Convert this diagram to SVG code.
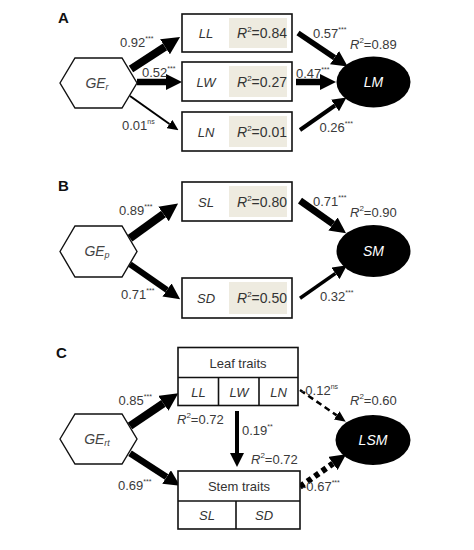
<svg xmlns="http://www.w3.org/2000/svg" width="474" height="550" viewBox="0 0 474 550">
<style>
text{font-family:"Liberation Sans",Arial,sans-serif;fill:#333}
.lab{font-size:13px;fill:#3a3a3a}
.sup{font-size:7px}
.r2s{font-size:8px}
.box{fill:#fff;stroke:#111;stroke-width:1.6}
.shade{fill:#eeebe0}
.bt{font-size:13px;font-style:italic;text-anchor:middle}
.r2{font-size:14px}
.hex{fill:#fff;stroke:#111;stroke-width:1.4}
.ge{font-size:14px;font-style:italic;text-anchor:middle;fill:#444}
.ell{fill:#000}
.et{font-size:14px;font-style:italic;fill:#fff;text-anchor:middle}
.sec{font-size:15px;font-weight:bold;fill:#111}
.hd{font-size:13px;text-anchor:middle}
.ar{stroke:#000;fill:none}
</style>
<defs>
<marker id="hB" markerUnits="userSpaceOnUse" viewBox="0 -9 18 18" refX="0" refY="0" markerWidth="18" markerHeight="18" orient="auto"><path d="M0,-9 L18,0 L0,9 z" fill="#000"/></marker>
<marker id="hM" markerUnits="userSpaceOnUse" viewBox="0 -8 16 16" refX="0" refY="0" markerWidth="16" markerHeight="16" orient="auto"><path d="M0,-8 L16,0 L0,8 z" fill="#000"/></marker>
<marker id="hS" markerUnits="userSpaceOnUse" viewBox="0 -7 14 14" refX="0" refY="0" markerWidth="14" markerHeight="14" orient="auto"><path d="M0,-7 L14,0 L0,7 z" fill="#000"/></marker>
<marker id="hT" markerUnits="userSpaceOnUse" viewBox="0 -5 11 10" refX="0" refY="0" markerWidth="11" markerHeight="10" orient="auto"><path d="M0,-5 L11,0 L0,5 z" fill="#000"/></marker>
</defs>
<rect width="474" height="550" fill="#fff"/>

<text class="sec" x="58" y="23">A</text>
<text class="sec" x="58" y="191">B</text>
<text class="sec" x="56" y="358">C</text>

<g id="connectors">
<!-- A -->
<line class="ar" x1="131" y1="69" x2="165" y2="46.8" stroke-width="8" marker-end="url(#hB)"/>
<line class="ar" x1="137" y1="82" x2="166" y2="82" stroke-width="6.5" marker-end="url(#hM)"/>
<line class="ar" x1="130" y1="96" x2="169.5" y2="124" stroke-width="2" marker-end="url(#hT)"/>
<line class="ar" x1="298" y1="33" x2="334.5" y2="57.6" stroke-width="5.5" marker-end="url(#hM)"/>
<line class="ar" x1="296" y1="82" x2="320" y2="82" stroke-width="6.5" marker-end="url(#hM)"/>
<line class="ar" x1="300" y1="130" x2="335" y2="105.5" stroke-width="4" marker-end="url(#hS)"/>
<!-- B -->
<line class="ar" x1="130" y1="238.3" x2="163.5" y2="214" stroke-width="8" marker-end="url(#hB)"/>
<line class="ar" x1="130" y1="264.3" x2="167" y2="290" stroke-width="6" marker-end="url(#hM)"/>
<line class="ar" x1="300" y1="200.7" x2="333" y2="224" stroke-width="7" marker-end="url(#hM)"/>
<line class="ar" x1="300" y1="298.3" x2="335.5" y2="273.4" stroke-width="3.5" marker-end="url(#hS)"/>
<!-- C -->
<line class="ar" x1="130" y1="426" x2="163.4" y2="403.4" stroke-width="8" marker-end="url(#hB)"/>
<line class="ar" x1="130" y1="453.3" x2="166.6" y2="477" stroke-width="6.5" marker-end="url(#hM)"/>
<line class="ar" x1="237" y1="411" x2="237" y2="453" stroke-width="4" marker-end="url(#hS)"/>
<line class="ar" x1="300" y1="390" x2="336.7" y2="415.4" stroke-width="2.5" stroke-dasharray="6,4" marker-end="url(#hT)"/>
<line class="ar" x1="300" y1="486.7" x2="333" y2="463.5" stroke-width="6" stroke-dasharray="5,4" marker-end="url(#hM)"/>
</g>

<!-- Panel A -->
<g id="A_GE">
<polygon class="hex" points="60,83 75,58 122,58 137,83 122,108 75,108"/>
<text class="ge" x="97" y="88">GE<tspan font-size="9" dy="2">r</tspan></text>
</g>
<g id="A_LL">
<rect class="box" x="182" y="14" width="110" height="38"/>
<rect class="shade" x="229" y="18" width="58" height="30"/>
<text class="bt" x="206" y="38">LL</text>
<text class="r2" x="237" y="38"><tspan font-style="italic">R</tspan><tspan class="r2s" dy="-6">2</tspan><tspan dy="6">=0.84</tspan></text>
</g>
<g id="A_LW">
<rect class="box" x="182" y="62" width="110" height="39"/>
<rect class="shade" x="229" y="66" width="58" height="31"/>
<text class="bt" x="206" y="86.5">LW</text>
<text class="r2" x="237" y="86.5"><tspan font-style="italic">R</tspan><tspan class="r2s" dy="-6">2</tspan><tspan dy="6">=0.27</tspan></text>
</g>
<g id="A_LN">
<rect class="box" x="182" y="112" width="110" height="39"/>
<rect class="shade" x="229" y="116" width="58" height="31"/>
<text class="bt" x="206" y="136.5">LN</text>
<text class="r2" x="237" y="136.5"><tspan font-style="italic">R</tspan><tspan class="r2s" dy="-6">2</tspan><tspan dy="6">=0.01</tspan></text>
</g>
<g id="A_LM">
<ellipse class="ell" cx="373.5" cy="82" rx="37" ry="25.5"/>
<text class="et" x="373.5" y="87">LM</text>
</g>
<g id="A_labels">
<text class="lab" x="120" y="47">0.92<tspan class="sup" dy="-6">***</tspan></text>
<text class="lab" x="142" y="77">0.52<tspan class="sup" dy="-6">***</tspan></text>
<text class="lab" x="122" y="130">0.01<tspan class="sup" dy="-6">ns</tspan></text>
<text class="lab" x="313" y="38">0.57<tspan class="sup" dy="-6">***</tspan></text>
<text class="lab" x="350" y="48.5"><tspan font-style="italic">R</tspan><tspan class="r2s" dy="-6">2</tspan><tspan dy="6">=0.89</tspan></text>
<text class="lab" x="296" y="78">0.47<tspan class="sup" dy="-6">***</tspan></text>
<text class="lab" x="319.5" y="132">0.26<tspan class="sup" dy="-6">***</tspan></text>
</g>

<!-- Panel B -->
<g id="B_GE">
<polygon class="hex" points="60,251.5 75,226 122,226 137,251.5 122,277 75,277"/>
<text class="ge" x="97" y="256">GE<tspan font-size="9" dy="2">p</tspan></text>
</g>
<g id="B_SL">
<rect class="box" x="182" y="182" width="110" height="39"/>
<rect class="shade" x="229" y="186" width="58" height="31"/>
<text class="bt" x="206" y="206.5">SL</text>
<text class="r2" x="237" y="206.5"><tspan font-style="italic">R</tspan><tspan class="r2s" dy="-6">2</tspan><tspan dy="6">=0.80</tspan></text>
</g>
<g id="B_SD">
<rect class="box" x="182" y="278" width="110" height="40"/>
<rect class="shade" x="229" y="282" width="58" height="32"/>
<text class="bt" x="206" y="303">SD</text>
<text class="r2" x="237" y="303"><tspan font-style="italic">R</tspan><tspan class="r2s" dy="-6">2</tspan><tspan dy="6">=0.50</tspan></text>
</g>
<g id="B_SM">
<ellipse class="ell" cx="373.5" cy="251" rx="37" ry="26"/>
<text class="et" x="373.5" y="256">SM</text>
</g>
<g id="B_labels">
<text class="lab" x="119" y="215">0.89<tspan class="sup" dy="-6">***</tspan></text>
<text class="lab" x="121" y="298.5">0.71<tspan class="sup" dy="-6">***</tspan></text>
<text class="lab" x="313" y="206">0.71<tspan class="sup" dy="-6">***</tspan></text>
<text class="lab" x="350" y="217"><tspan font-style="italic">R</tspan><tspan class="r2s" dy="-6">2</tspan><tspan dy="6">=0.90</tspan></text>
<text class="lab" x="320" y="301">0.32<tspan class="sup" dy="-6">***</tspan></text>
</g>

<!-- Panel C -->
<g id="C_GE">
<polygon class="hex" points="60,439 75,414 122,414 137,439 122,464 75,464"/>
<text class="ge" x="97" y="444">GE<tspan font-size="9" dy="2">rt</tspan></text>
</g>
<g id="C_Leaf">
<rect class="box" x="178" y="347.5" width="120" height="58"/>
<line x1="178" y1="377.5" x2="298" y2="377.5" stroke="#111" stroke-width="1.6"/>
<line x1="218.5" y1="377.5" x2="218.5" y2="405.5" stroke="#111" stroke-width="1.6"/>
<line x1="259" y1="377.5" x2="259" y2="405.5" stroke="#111" stroke-width="1.6"/>
<text class="hd" x="238" y="367.5">Leaf traits</text>
<text class="bt" x="198.5" y="396.5">LL</text>
<text class="bt" x="239" y="396.5">LW</text>
<text class="bt" x="278.5" y="396.5">LN</text>
</g>
<g id="C_Stem">
<rect class="box" x="178" y="471" width="122" height="58"/>
<line x1="178" y1="501" x2="300" y2="501" stroke="#111" stroke-width="1.6"/>
<line x1="236" y1="501" x2="236" y2="529" stroke="#111" stroke-width="1.6"/>
<text class="hd" x="239" y="491">Stem traits</text>
<text class="bt" x="207" y="520">SL</text>
<text class="bt" x="264" y="520">SD</text>
</g>
<g id="C_LSM">
<ellipse class="ell" cx="373" cy="440" rx="37.5" ry="25"/>
<text class="et" x="373" y="445">LSM</text>
</g>
<g id="C_labels">
<text class="lab" x="118.5" y="405">0.85<tspan class="sup" dy="-6">***</tspan></text>
<text class="lab" x="177" y="423.5"><tspan font-style="italic">R</tspan><tspan class="r2s" dy="-6">2</tspan><tspan dy="6">=0.72</tspan></text>
<text class="lab" x="242" y="435">0.19<tspan class="sup" dy="-6">**</tspan></text>
<text class="lab" x="251" y="463.5"><tspan font-style="italic">R</tspan><tspan class="r2s" dy="-6">2</tspan><tspan dy="6">=0.72</tspan></text>
<text class="lab" x="118" y="490">0.69<tspan class="sup" dy="-6">***</tspan></text>
<text class="lab" x="301" y="395">-0.12<tspan class="sup" dy="-6">ns</tspan></text>
<text class="lab" x="350" y="405"><tspan font-style="italic">R</tspan><tspan class="r2s" dy="-6">2</tspan><tspan dy="6">=0.60</tspan></text>
<text class="lab" x="302" y="491">-0.67<tspan class="sup" dy="-6">***</tspan></text>
</g>
</svg>
